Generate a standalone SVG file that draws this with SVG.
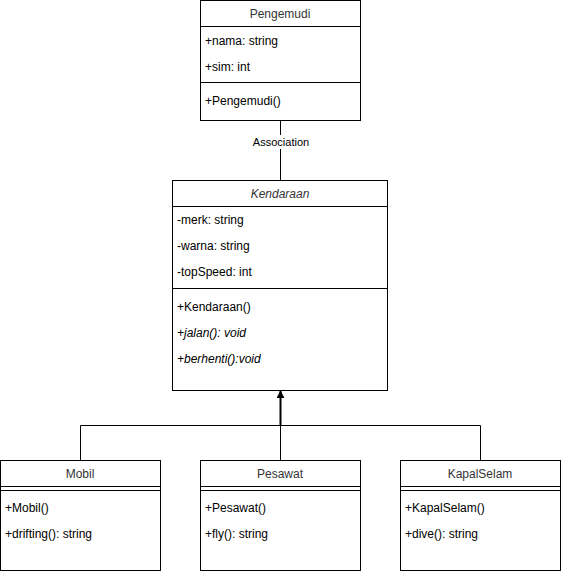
<svg xmlns="http://www.w3.org/2000/svg" width="562" height="572" viewBox="0 0 562 572">
<style>
text{font-family:"Liberation Sans",Arial,sans-serif;font-size:12px;fill:#000}
.t{text-anchor:middle;fill:#333}
.i{font-style:italic}
.b{fill:#fff;stroke:#000;stroke-width:1}
.l{stroke:#000;stroke-width:1;fill:none}
</style>
<defs>
<marker id="arr" viewBox="0 0 10 10" refX="9" refY="5" markerWidth="8" markerHeight="8" markerUnits="userSpaceOnUse" orient="auto">
<path d="M0,0 L10,5 L0,10 Z" fill="#000"/>
</marker>
</defs>
<rect width="562" height="572" fill="#fff"/>
<g id="connectors">
<line class="l" x1="280.5" y1="120" x2="280.5" y2="180"/>
<rect x="251" y="135" width="60" height="14" fill="#fff"/>
<text x="281" y="146" text-anchor="middle" style="font-size:11px" fill="#333">Association</text>
<path class="l" d="M80.5,460 V425.5 H280.5"/>
<path class="l" d="M480.5,460 V425.5 H280.5"/>
<line class="l" x1="280.5" y1="460" x2="280.5" y2="425"/>
<line x1="280.5" y1="425" x2="280.5" y2="391" stroke="#000" stroke-width="2" marker-end="url(#arr)"/>
</g>
<g id="Pengemudi">
<rect class="b" x="200.5" y="0.5" width="160" height="120"/>
<line class="l" x1="200.5" y1="26.5" x2="360.5" y2="26.5"/>
<line class="l" x1="200.5" y1="82.5" x2="360.5" y2="82.5"/>
<text class="t" x="280" y="18">Pengemudi</text>
<text x="205" y="45">+nama: string</text>
<text x="205" y="71">+sim: int</text>
<text x="205" y="105">+Pengemudi()</text>
</g>
<g id="Kendaraan">
<rect class="b" x="172.5" y="180.5" width="215" height="210"/>
<line class="l" x1="172.5" y1="206.5" x2="387.5" y2="206.5"/>
<line class="l" x1="172.5" y1="288.5" x2="387.5" y2="288.5"/>
<text class="t i" x="280" y="198">Kendaraan</text>
<text x="177" y="224">-merk: string</text>
<text x="177" y="250">-warna: string</text>
<text x="177" y="276">-topSpeed: int</text>
<text x="177" y="311">+Kendaraan()</text>
<text class="i" x="177" y="337">+jalan(): void</text>
<text class="i" x="177" y="363">+berhenti():void</text>
</g>
<g id="Mobil">
<rect class="b" x="0.5" y="460.5" width="160" height="110"/>
<line class="l" x1="0.5" y1="486.5" x2="160.5" y2="486.5"/>
<line class="l" x1="0.5" y1="490.5" x2="160.5" y2="490.5"/>
<text class="t" x="80" y="478">Mobil</text>
<text x="5" y="512">+Mobil()</text>
<text x="5" y="538">+drifting(): string</text>
</g>
<g id="Pesawat">
<rect class="b" x="200.5" y="460.5" width="160" height="110"/>
<line class="l" x1="200.5" y1="486.5" x2="360.5" y2="486.5"/>
<line class="l" x1="200.5" y1="490.5" x2="360.5" y2="490.5"/>
<text class="t" x="280" y="478">Pesawat</text>
<text x="205" y="512">+Pesawat()</text>
<text x="205" y="538">+fly(): string</text>
</g>
<g id="KapalSelam">
<rect class="b" x="400.5" y="460.5" width="160" height="110"/>
<line class="l" x1="400.5" y1="486.5" x2="560.5" y2="486.5"/>
<line class="l" x1="400.5" y1="490.5" x2="560.5" y2="490.5"/>
<text class="t" x="480" y="478">KapalSelam</text>
<text x="405" y="512">+KapalSelam()</text>
<text x="405" y="538">+dive(): string</text>
</g>
</svg>
